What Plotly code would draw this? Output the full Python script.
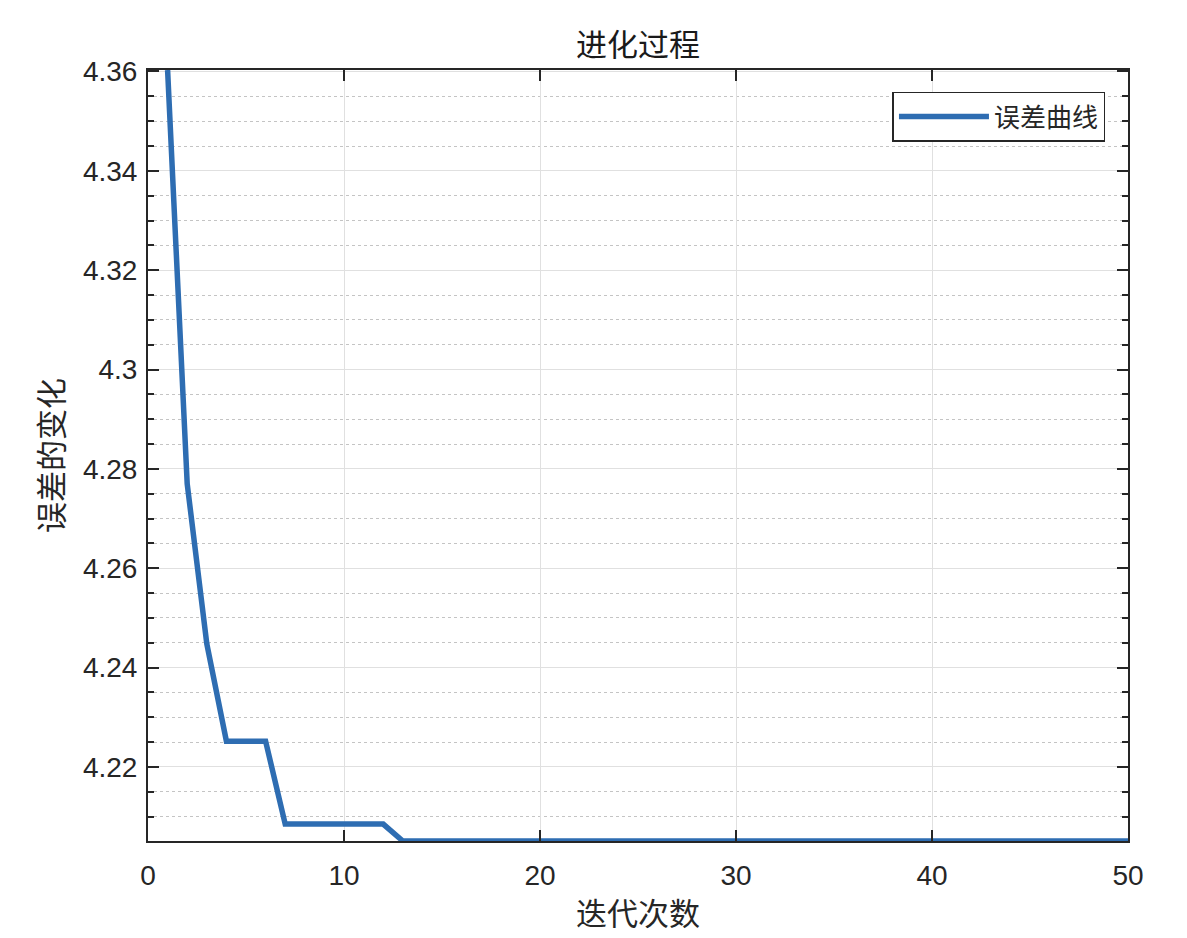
import plotly.graph_objects as go

# ---------------- DATA ----------------
iterations = list(range(1, 51))
error_values = (
    [4.3603, 4.2770, 4.2448, 4.2252, 4.2252, 4.2252]
    + [4.2085] * 6
    + [4.2051] * 38
)
y_ticks = [4.22, 4.24, 4.26, 4.28, 4.3, 4.32, 4.34, 4.36]
y_labels = ["4.22", "4.24", "4.26", "4.28", "4.3", "4.32", "4.34", "4.36"]
x_ticks = [0, 10, 20, 30, 40, 50]

FONT = "Liberation Sans, Arial, Noto Sans CJK SC"
CJK = "Noto Sans CJK SC, Liberation Sans"
TXT = "#262626"

# page body has an 8px margin, so the figure is a little smaller than the window
W, H = 1179, 930

fig = go.Figure()

fig.add_trace(
    go.Scatter(
        x=iterations,
        y=error_values,
        mode="lines",
        name="误差曲线",
        line=dict(color="#2e6db2", width=5.5),
    )
)

fig.update_layout(
    width=W,
    height=H,
    margin=dict(l=140, r=59, t=62, b=97),
    paper_bgcolor="white",
    plot_bgcolor="white",
    title=dict(
        text="进化过程",
        x=(638 - 8) / W, xanchor="center",
        y=1 - (45 - 8) / H, yanchor="middle",
        font=dict(family=CJK, size=31, color="#1a1a1a"),
    ),
    showlegend=True,
    legend=dict(
        x=0.977, xanchor="right",
        y=0.972, yanchor="top",
        bgcolor="white",
        bordercolor="#262626",
        borderwidth=1.5,
        font=dict(family=CJK, size=26, color=TXT),
        itemwidth=90,
    ),
)

axis_common = dict(
    ticks="inside",
    ticklen=11,
    tickwidth=1.5,
    tickcolor="#262626",
    showline=True,
    linecolor="#262626",
    linewidth=2,
    mirror="ticks",
    showgrid=True,
    gridcolor="#e0e0e0",
    gridwidth=1,
    zeroline=False,
    tickfont=dict(family=FONT, size=28, color=TXT),
)

fig.update_xaxes(
    range=[0, 50],
    tickvals=x_ticks,
    ticklabelstandoff=8,
    title=dict(text="迭代次数", font=dict(family=CJK, size=31, color=TXT), standoff=14),
    **axis_common,
)

fig.update_yaxes(
    range=[4.2051, 4.3603],
    tickvals=y_ticks,
    ticktext=y_labels,
    ticklabelstandoff=3,
    minor=dict(
        dtick=0.005,
        tick0=4.2,
        ticks="inside",
        ticklen=6,
        tickwidth=1.5,
        tickcolor="#262626",
        showgrid=True,
        gridcolor="#c4c4c4",
        griddash="dot",
        gridwidth=1,
    ),
    title=dict(text="误差的变化", font=dict(family=CJK, size=31, color=TXT), standoff=10),
    **axis_common,
)

fig.write_html("out.html")
